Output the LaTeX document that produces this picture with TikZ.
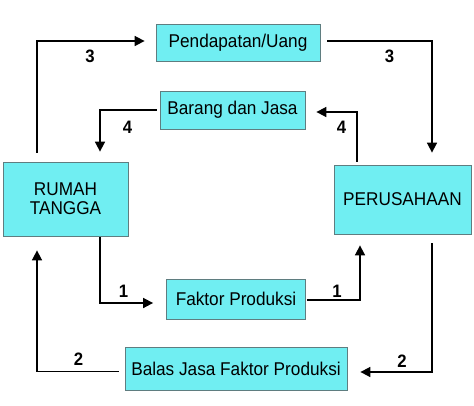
\documentclass[tikz,border=0pt]{standalone}
\usepackage{fontspec}
\setmainfont{Liberation Sans}[FakeStretch=0.93]
\usetikzlibrary{arrows.meta}
\definecolor{boxfill}{RGB}{112,238,242}
\definecolor{boxline}{RGB}{95,125,128}

\begin{document}
\begin{tikzpicture}[
  x=1pt, y=-1pt,
  font=\fontsize{18.5}{19}\selectfont,
  box/.style={
     rectangle,
     draw=boxline,
     line width=0.8pt,
     fill=boxfill,
     inner sep=0pt,
     align=center,
  },
  flow/.style={
     line width=1.7pt,
     -{Triangle[length=10pt,width=10pt]},
  },
  num/.style={font=\fontsize{18}{19}\selectfont\bfseries},
]
   \useasboundingbox (0,0) rectangle (474,405);
   % boxes
   \node[box,minimum width=164pt,minimum height=37pt] (uang) at (238,42.5) {Pendapatan/Uang};
   \node[box,minimum width=145pt,minimum height=38pt] (barang) at (232.5,110) {Barang dan Jasa};
   \node[box,minimum width=125pt,minimum height=74pt] (rumah) at (65.5,199) {RUMAH\\TANGGA};
   \node[box,minimum width=137pt,minimum height=69pt] (usaha) at (402.5,199.5) {PERUSAHAAN};
   \node[box,minimum width=139pt,minimum height=40pt] (faktor) at (236,299) {Faktor Produksi};
   \node[box,minimum width=222pt,minimum height=43pt] (balas) at (236,368.5) {Balas Jasa Faktor Produksi};
   % flows
   \draw[flow] ([xshift=-28.5pt,yshift=9pt]rumah.north) |- ([xshift=-11pt,yshift=1.5pt]uang.west);
   \draw[flow] ([xshift=7pt,yshift=1.5pt]uang.east) -| ([xshift=29.5pt,yshift=12pt]usaha.north);
   \draw[flow] ([xshift=-3pt]barang.west) -| ([xshift=34.5pt,yshift=10pt]rumah.north);
   \draw[flow] ([xshift=-45.5pt,yshift=3pt]usaha.north) |- ([xshift=11pt,yshift=-2pt]barang.east);
   \draw[flow] ([xshift=34.5pt,yshift=-1pt]rumah.south) |- ([xshift=-13pt,yshift=-4pt]faktor.west);
   \draw[flow] ([xshift=1pt,yshift=-1pt]faktor.east) -| ([xshift=-42.5pt,yshift=-11pt]usaha.south);
   \draw[flow] ([xshift=29.5pt,yshift=-9pt]usaha.south) |- ([xshift=13pt,yshift=-3.5pt]balas.east);
   \draw[flow] ([xshift=-6pt,yshift=-3pt]balas.west) -| ([xshift=-28.5pt,yshift=-14pt]rumah.south);
   % numbers
   \node[num] (n3a) at (90,56) {3};
   \node[num] (n3b) at (389.5,56) {3};
   \node[num] (n4a) at (127.5,127.5) {4};
   \node[num] (n4b) at (341.5,127.5) {4};
   \node[num] (n1a) at (123.5,291) {1};
   \node[num] (n1b) at (337,291) {1};
   \node[num] (n2a) at (78.5,359) {2};
   \node[num] (n2b) at (402,361.5) {2};
\end{tikzpicture}
\end{document}
